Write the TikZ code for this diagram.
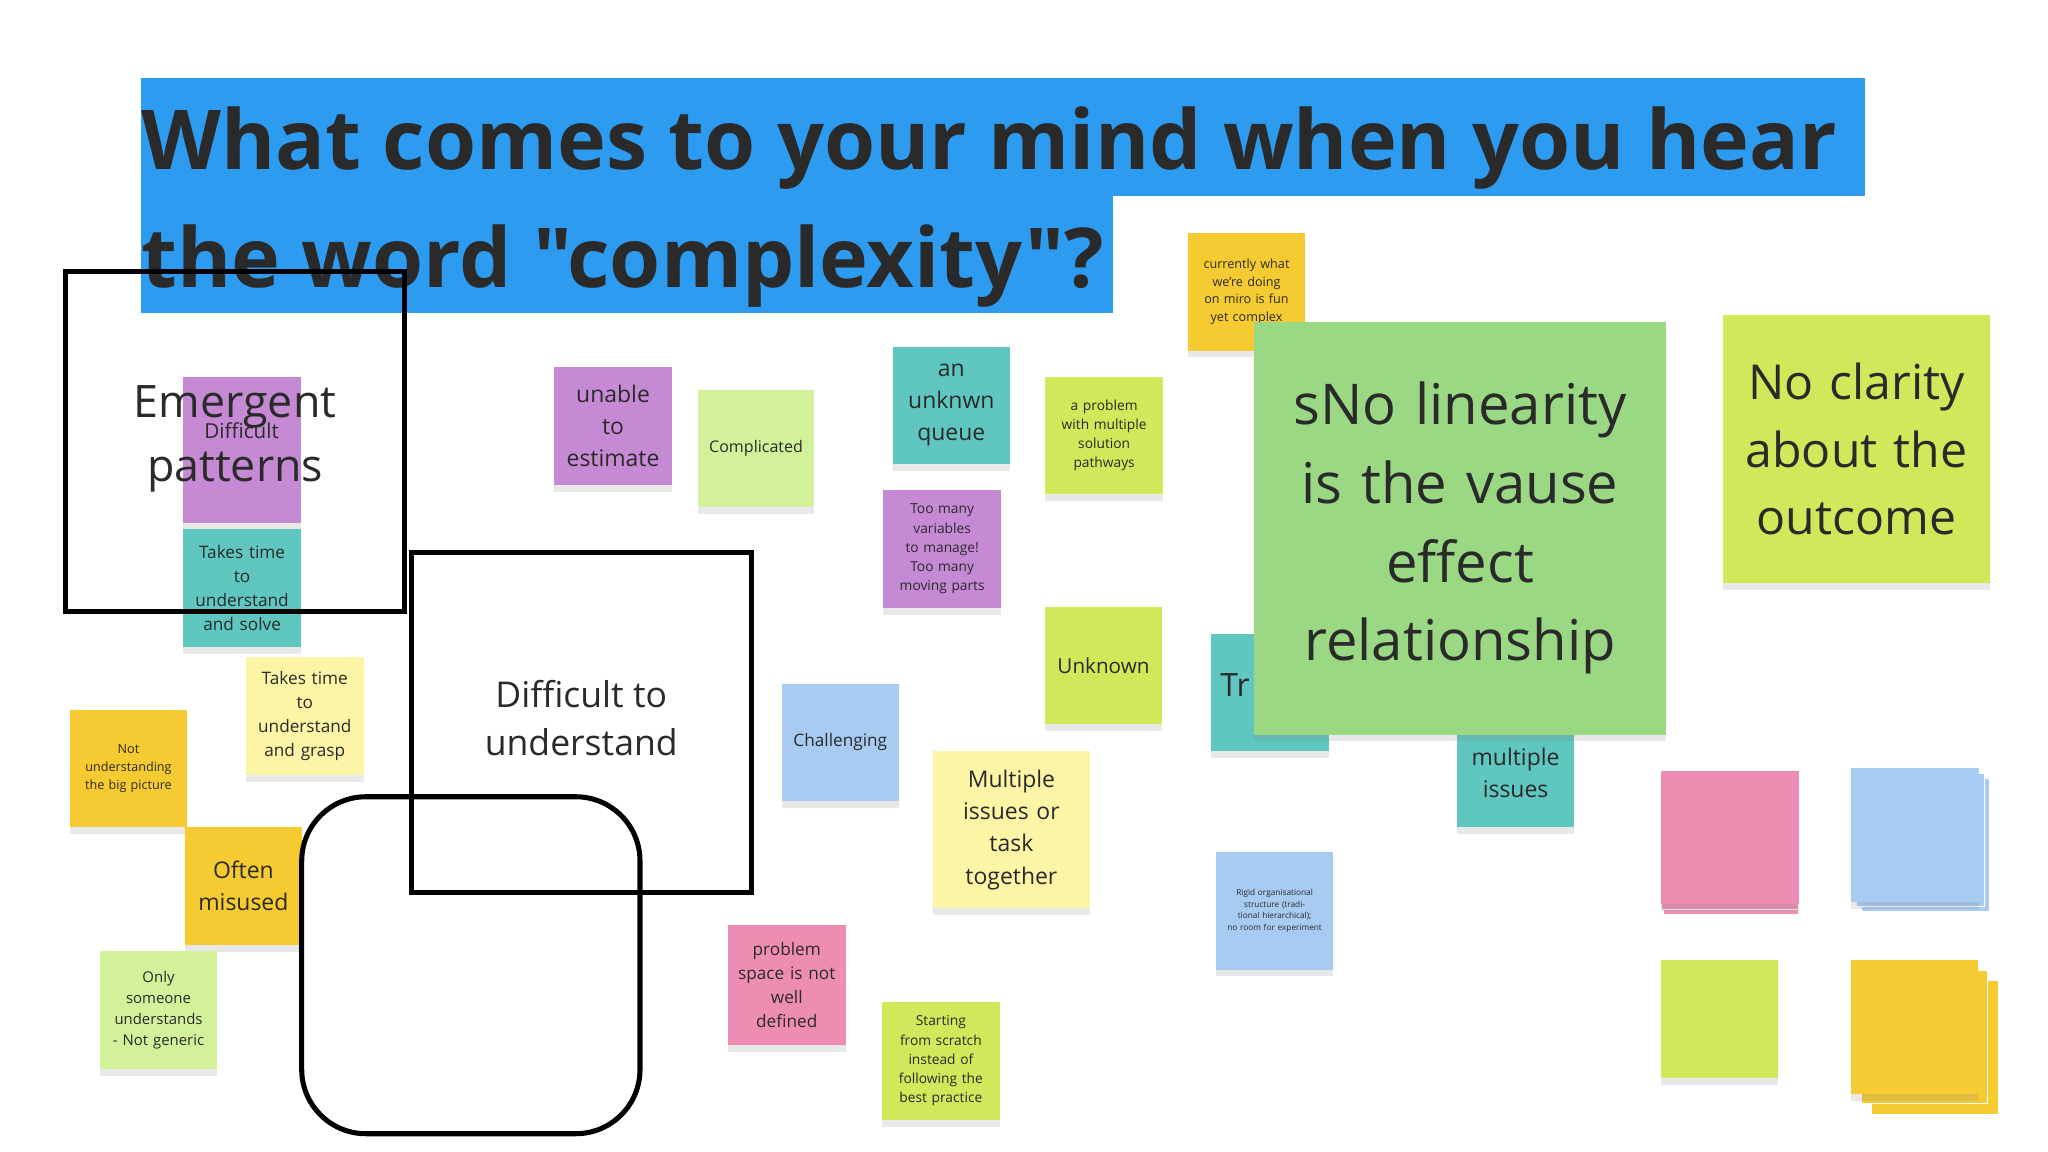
\documentclass[tikz,border=0pt]{standalone}
\usepackage{fontspec}
\setmainfont{Open Sans}
\newfontfamily\titlefont{Open Sans}
\usetikzlibrary{shadows}
\definecolor{tblue}{HTML}{2D9BF0}
\definecolor{npurple}{HTML}{C58AD3}
\definecolor{nteal}{HTML}{60C6C0}
\definecolor{nlyellow}{HTML}{FDF5A6}
\definecolor{nyellow}{HTML}{F6CB32}
\definecolor{nlgreen}{HTML}{D3F19A}
\definecolor{nygreen}{HTML}{D2E75A}
\definecolor{nblue}{HTML}{A8CBF2}
\definecolor{ngreen}{HTML}{9AD884}
\definecolor{npink}{HTML}{EE8DB4}
\definecolor{ntext}{HTML}{2A2A2A}
\tikzset{
 stick/.style={fill=#1, inner sep=0pt, align=center, anchor=north west, text=ntext,
   drop shadow={opacity=0.18, shadow xshift=0pt, shadow yshift=-3pt}},
 frame/.style={draw=black, line width=2.2pt},
}
% \nt{name}{x}{y}{w}{h}{color}{size}{text}
\newcommand{\nt}[8]{%
 \pgfmathsetmacro{\nw}{#4*0.02*28.4527}%
 \pgfmathsetmacro{\nh}{#5*0.02*28.4527}%
 \pgfmathsetmacro{\ntw}{\nw-8}%
 \node[stick=#6, minimum width=\nw pt, minimum height=\nh pt, text width=\ntw pt, font=\fontsize{#7pt}{\dimexpr #7pt*7/5\relax}\selectfont] (#1) at (#2,#3) {#8};}
\begin{document}
\begin{tikzpicture}[x=0.02cm,y=-0.02cm]
\useasboundingbox (0,0) rectangle (1568,882);
\fill[white] (0,0) rectangle (1568,882);
% title
\fill[tblue] (108,60) rectangle (1428,150);
\fill[tblue] (108,150) rectangle (852,240);
\node[anchor=base west, inner sep=0, font=\titlefont\fontsize{36pt}{36pt}\selectfont\bfseries, text=ntext] (t1) at (108,130) {What comes to your mind when you hear};
\node[anchor=base west, inner sep=0, font=\titlefont\fontsize{36pt}{36pt}\selectfont\bfseries, text=ntext] (t2) at (108,220) {the word "complexity"?};
% left cluster
\nt{dif}{140}{288}{90}{112}{npurple}{9}{}
\node[font=\fontsize{9pt}{11pt}\selectfont, text=ntext] (dift) at (185,330) {Difficult};
\nt{ttus}{140}{405}{90}{90}{nteal}{7.5}{Takes time\\to\\understand\\and solve}
\draw[frame] (50,208) rectangle (310,468);
\node[font=\fontsize{19.5pt}{28pt}\selectfont, align=center, text=ntext] (emg) at (180,336) {Emergent\\patterns};
\nt{ttug}{188}{503}{90}{90}{nlyellow}{7.5}{Takes time\\to\\understand\\and grasp}
\nt{nubp}{53}{543}{90}{90}{nyellow}{5.5}{Not\\understanding\\the big picture}
\nt{om}{141}{633}{90}{90}{nyellow}{10}{Often\\misused}
\nt{osu}{76}{728}{90}{90}{nlgreen}{6.5}{Only\\someone\\understands\\- Not generic}
\draw[frame] (315,423) rectangle (575,683);
\node[font=\fontsize{15.5pt}{21pt}\selectfont, align=center, text=ntext] (dtu) at (445,550) {Difficult to\\understand};
\draw[frame, rounded corners=28pt] (231,610) rectangle (490,868);
% middle
\nt{ute}{424}{281}{90}{90}{npurple}{10}{unable\\to\\estimate}
\nt{cpl}{534}{298}{89}{90}{nlgreen}{7}{Complicated}
\nt{auq}{683}{265}{90}{90}{nteal}{10}{an\\unknwn\\queue}
\nt{tmv}{676}{375}{90}{90}{npurple}{6}{Too many variables to manage! Too many moving parts}
\nt{apm}{800}{288}{90}{90}{nygreen}{6}{a problem with multiple solution pathways}
\nt{cur}{909}{178}{90}{90}{nyellow}{5.5}{currently what we're doing on miro is fun yet complex}
\nt{chl}{598}{523}{90}{90}{nblue}{7.5}{Challenging}
\nt{unk}{800}{464}{89}{90}{nygreen}{9}{Unknown}
\nt{mit}{714}{575}{120}{120}{nlyellow}{10}{Multiple\\issues or\\task\\together}
\nt{psn}{557}{708}{90}{92}{npink}{7.5}{problem\\space is not\\well\\defined}
\nt{sfs}{675}{767}{90}{90}{nygreen}{6}{Starting from scratch instead of following the best practice}
\nt{rig}{931}{652}{89}{90}{nblue}{3.6}{Rigid organisational structure (traditional hierarchical); no room for experiment}
% right
\nt{tr}{927}{485}{90}{90}{nteal}{10}{}
\node[anchor=base west, inner sep=0, font=\fontsize{14pt}{14pt}\selectfont, text=ntext] (trt) at (934,533) {Tr};
\nt{mis}{1115}{545}{90}{88}{nteal}{10}{\rule{0pt}{10pt}multiple\\issues}
\nt{big}{960}{246}{315}{316}{ngreen}{24.5}{sNo linearity\\is the vause\\effect\\relationship\\[-8pt]}
\nt{ncl}{1319}{241}{204}{205}{nygreen}{21}{No clarity\\about the\\outcome}
% stacks
\foreach \i in {8,4} {\fill[npink, draw=white, line width=0.4pt] (1271+\i*0.3,590+\i) rectangle (1377,692+\i);}
\nt{pk}{1271}{590}{106}{102}{npink}{8}{}
\foreach \i in {8,4} {\fill[nblue, draw=white, line width=0.4pt] (1417+\i,588+\i) rectangle (1515+\i,690+\i);}
\nt{bl}{1417}{588}{98}{102}{nblue}{8}{}
\nt{gr}{1271}{735}{90}{90}{nygreen}{8}{}
\foreach \i in {16,8} {\fill[nyellow, draw=white, line width=0.4pt] (1417+\i,735+\i) rectangle (1514+\i,837+\i);}
\nt{yl}{1417}{735}{97}{102}{nyellow}{8}{}
\end{tikzpicture}
\end{document}
